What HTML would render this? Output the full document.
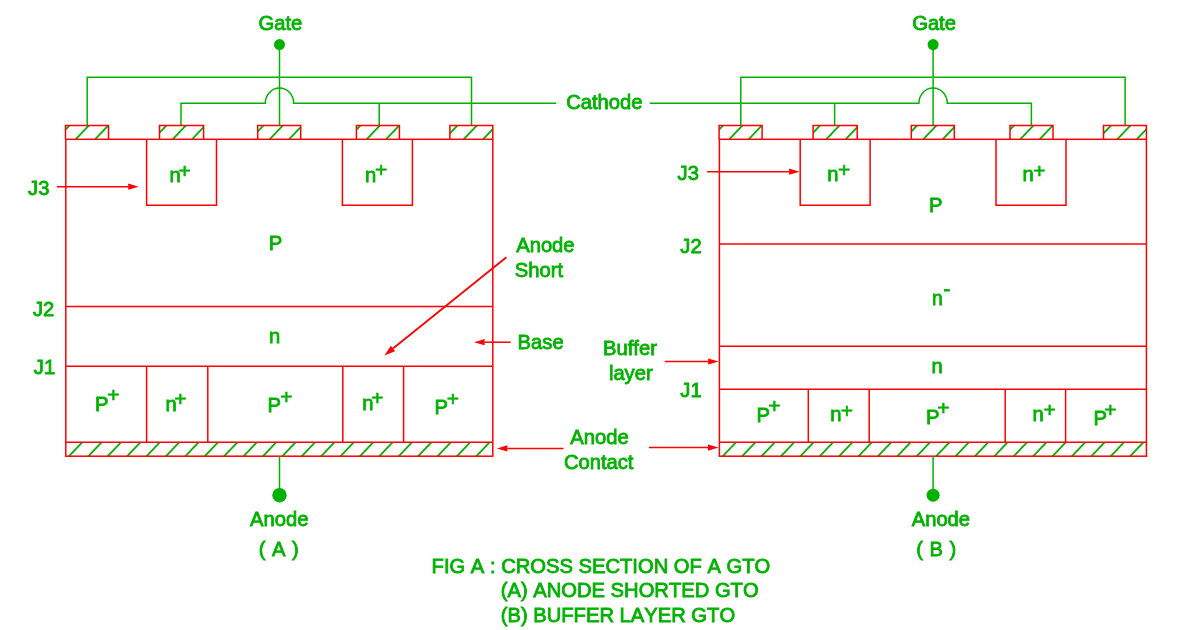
<!DOCTYPE html>
<html lang="en"><head><meta charset="utf-8"><title>Cross section of a GTO</title>
<style>
html,body{margin:0;padding:0;background:#fff;}
svg{display:block;will-change:transform;}
.t{font-kerning:none;font-family:"Liberation Sans",sans-serif;fill:#00b200;stroke:#00b200;stroke-width:0.8px;}
.p{font-family:"Liberation Sans",sans-serif;fill:#00b200;stroke:#00b200;stroke-width:0.6px;}
</style></head><body>
<svg width="1200" height="630" viewBox="0 0 1200 630">
<rect x="0" y="0" width="1200" height="630" fill="#ffffff"/>
<path d="M87.20,125.4 V77.2 H471.50 V125.4" stroke="#00b200" stroke-width="1.5" fill="none" />
<line x1="279.50" y1="44.50" x2="279.50" y2="125.40" stroke="#00b200" stroke-width="1.5" />
<circle cx="279.50" cy="44.6" r="5.5" fill="#00b200"/>
<path d="M181.00,125.4 V103.2 H265.30 A14.2,15.2 0 0 1 293.70,103.2 H556.2" stroke="#00b200" stroke-width="1.5" fill="none" />
<line x1="379.20" y1="103.20" x2="379.20" y2="125.40" stroke="#00b200" stroke-width="1.5" />
<clipPath id="cA0"><rect x="65.50" y="125.40" width="43.00" height="13.90"/></clipPath>
<g clip-path="url(#cA0)">
<line x1="32.94" y1="143.47" x2="54.06" y2="121.23" stroke="#00b200" stroke-width="1.8" />
<line x1="52.34" y1="143.47" x2="73.46" y2="121.23" stroke="#00b200" stroke-width="1.8" />
<line x1="71.74" y1="143.47" x2="92.86" y2="121.23" stroke="#00b200" stroke-width="1.8" />
<line x1="91.14" y1="143.47" x2="112.26" y2="121.23" stroke="#00b200" stroke-width="1.8" />
<line x1="110.54" y1="143.47" x2="131.66" y2="121.23" stroke="#00b200" stroke-width="1.8" />
<line x1="129.94" y1="143.47" x2="151.06" y2="121.23" stroke="#00b200" stroke-width="1.8" />
</g>
<clipPath id="cA1"><rect x="159.50" y="125.40" width="44.10" height="13.90"/></clipPath>
<g clip-path="url(#cA1)">
<line x1="110.54" y1="143.47" x2="131.66" y2="121.23" stroke="#00b200" stroke-width="1.8" />
<line x1="129.94" y1="143.47" x2="151.06" y2="121.23" stroke="#00b200" stroke-width="1.8" />
<line x1="149.34" y1="143.47" x2="170.46" y2="121.23" stroke="#00b200" stroke-width="1.8" />
<line x1="168.74" y1="143.47" x2="189.86" y2="121.23" stroke="#00b200" stroke-width="1.8" />
<line x1="188.14" y1="143.47" x2="209.26" y2="121.23" stroke="#00b200" stroke-width="1.8" />
<line x1="207.54" y1="143.47" x2="228.66" y2="121.23" stroke="#00b200" stroke-width="1.8" />
<line x1="226.94" y1="143.47" x2="248.06" y2="121.23" stroke="#00b200" stroke-width="1.8" />
</g>
<clipPath id="cA2"><rect x="257.70" y="125.40" width="43.00" height="13.90"/></clipPath>
<g clip-path="url(#cA2)">
<line x1="226.94" y1="143.47" x2="248.06" y2="121.23" stroke="#00b200" stroke-width="1.8" />
<line x1="246.34" y1="143.47" x2="267.46" y2="121.23" stroke="#00b200" stroke-width="1.8" />
<line x1="265.74" y1="143.47" x2="286.86" y2="121.23" stroke="#00b200" stroke-width="1.8" />
<line x1="285.14" y1="143.47" x2="306.26" y2="121.23" stroke="#00b200" stroke-width="1.8" />
<line x1="304.54" y1="143.47" x2="325.66" y2="121.23" stroke="#00b200" stroke-width="1.8" />
<line x1="323.94" y1="143.47" x2="345.06" y2="121.23" stroke="#00b200" stroke-width="1.8" />
</g>
<clipPath id="cA3"><rect x="356.40" y="125.40" width="43.00" height="13.90"/></clipPath>
<g clip-path="url(#cA3)">
<line x1="323.94" y1="143.47" x2="345.06" y2="121.23" stroke="#00b200" stroke-width="1.8" />
<line x1="343.34" y1="143.47" x2="364.46" y2="121.23" stroke="#00b200" stroke-width="1.8" />
<line x1="362.74" y1="143.47" x2="383.86" y2="121.23" stroke="#00b200" stroke-width="1.8" />
<line x1="382.14" y1="143.47" x2="403.26" y2="121.23" stroke="#00b200" stroke-width="1.8" />
<line x1="401.54" y1="143.47" x2="422.66" y2="121.23" stroke="#00b200" stroke-width="1.8" />
<line x1="420.94" y1="143.47" x2="442.06" y2="121.23" stroke="#00b200" stroke-width="1.8" />
</g>
<clipPath id="cA4"><rect x="449.90" y="125.40" width="42.90" height="13.90"/></clipPath>
<g clip-path="url(#cA4)">
<line x1="401.54" y1="143.47" x2="422.66" y2="121.23" stroke="#00b200" stroke-width="1.8" />
<line x1="420.94" y1="143.47" x2="442.06" y2="121.23" stroke="#00b200" stroke-width="1.8" />
<line x1="440.34" y1="143.47" x2="461.46" y2="121.23" stroke="#00b200" stroke-width="1.8" />
<line x1="459.74" y1="143.47" x2="480.86" y2="121.23" stroke="#00b200" stroke-width="1.8" />
<line x1="479.14" y1="143.47" x2="500.26" y2="121.23" stroke="#00b200" stroke-width="1.8" />
<line x1="498.54" y1="143.47" x2="519.66" y2="121.23" stroke="#00b200" stroke-width="1.8" />
<line x1="517.94" y1="143.47" x2="539.06" y2="121.23" stroke="#00b200" stroke-width="1.8" />
</g>
<clipPath id="bA"><rect x="65.80" y="442.30" width="427.00" height="13.90"/></clipPath>
<g clip-path="url(#bA)">
<line x1="26.24" y1="460.37" x2="47.36" y2="438.13" stroke="#00b200" stroke-width="1.8" />
<line x1="45.64" y1="460.37" x2="66.76" y2="438.13" stroke="#00b200" stroke-width="1.8" />
<line x1="65.04" y1="460.37" x2="86.16" y2="438.13" stroke="#00b200" stroke-width="1.8" />
<line x1="84.44" y1="460.37" x2="105.56" y2="438.13" stroke="#00b200" stroke-width="1.8" />
<line x1="103.84" y1="460.37" x2="124.96" y2="438.13" stroke="#00b200" stroke-width="1.8" />
<line x1="123.24" y1="460.37" x2="144.36" y2="438.13" stroke="#00b200" stroke-width="1.8" />
<line x1="142.64" y1="460.37" x2="163.76" y2="438.13" stroke="#00b200" stroke-width="1.8" />
<line x1="162.04" y1="460.37" x2="183.16" y2="438.13" stroke="#00b200" stroke-width="1.8" />
<line x1="181.44" y1="460.37" x2="202.56" y2="438.13" stroke="#00b200" stroke-width="1.8" />
<line x1="200.84" y1="460.37" x2="221.96" y2="438.13" stroke="#00b200" stroke-width="1.8" />
<line x1="220.24" y1="460.37" x2="241.36" y2="438.13" stroke="#00b200" stroke-width="1.8" />
<line x1="239.64" y1="460.37" x2="260.76" y2="438.13" stroke="#00b200" stroke-width="1.8" />
<line x1="259.04" y1="460.37" x2="280.16" y2="438.13" stroke="#00b200" stroke-width="1.8" />
<line x1="278.44" y1="460.37" x2="299.56" y2="438.13" stroke="#00b200" stroke-width="1.8" />
<line x1="297.84" y1="460.37" x2="318.96" y2="438.13" stroke="#00b200" stroke-width="1.8" />
<line x1="317.24" y1="460.37" x2="338.36" y2="438.13" stroke="#00b200" stroke-width="1.8" />
<line x1="336.64" y1="460.37" x2="357.76" y2="438.13" stroke="#00b200" stroke-width="1.8" />
<line x1="356.04" y1="460.37" x2="377.16" y2="438.13" stroke="#00b200" stroke-width="1.8" />
<line x1="375.44" y1="460.37" x2="396.56" y2="438.13" stroke="#00b200" stroke-width="1.8" />
<line x1="394.84" y1="460.37" x2="415.96" y2="438.13" stroke="#00b200" stroke-width="1.8" />
<line x1="414.24" y1="460.37" x2="435.36" y2="438.13" stroke="#00b200" stroke-width="1.8" />
<line x1="433.64" y1="460.37" x2="454.76" y2="438.13" stroke="#00b200" stroke-width="1.8" />
<line x1="453.04" y1="460.37" x2="474.16" y2="438.13" stroke="#00b200" stroke-width="1.8" />
<line x1="472.44" y1="460.37" x2="493.56" y2="438.13" stroke="#00b200" stroke-width="1.8" />
<line x1="491.84" y1="460.37" x2="512.96" y2="438.13" stroke="#00b200" stroke-width="1.8" />
<line x1="511.24" y1="460.37" x2="532.36" y2="438.13" stroke="#00b200" stroke-width="1.8" />
</g>
<path d="M65.50,139.3 V125.4 H108.50 V139.3" stroke="#ff0000" stroke-width="1.5" fill="none" />
<path d="M159.50,139.3 V125.4 H203.60 V139.3" stroke="#ff0000" stroke-width="1.5" fill="none" />
<path d="M257.70,139.3 V125.4 H300.70 V139.3" stroke="#ff0000" stroke-width="1.5" fill="none" />
<path d="M356.40,139.3 V125.4 H399.40 V139.3" stroke="#ff0000" stroke-width="1.5" fill="none" />
<path d="M449.90,139.3 V125.4 H492.80 V139.3" stroke="#ff0000" stroke-width="1.5" fill="none" />
<rect x="65.80" y="139.30" width="427.00" height="316.90" stroke="#ff0000" stroke-width="1.5" fill="none"/>
<line x1="65.80" y1="442.30" x2="492.80" y2="442.30" stroke="#ff0000" stroke-width="1.5" />
<path d="M146.60,139.3 V205.2 H216.50 V139.3" stroke="#ff0000" stroke-width="1.5" fill="none" />
<path d="M342.40,139.3 V205.2 H412.40 V139.3" stroke="#ff0000" stroke-width="1.5" fill="none" />
<line x1="65.80" y1="306.50" x2="492.80" y2="306.50" stroke="#ff0000" stroke-width="1.5" />
<line x1="65.80" y1="366.20" x2="492.80" y2="366.20" stroke="#ff0000" stroke-width="1.5" />
<line x1="146.60" y1="366.20" x2="146.60" y2="442.30" stroke="#ff0000" stroke-width="1.5" />
<line x1="207.80" y1="366.20" x2="207.80" y2="442.30" stroke="#ff0000" stroke-width="1.5" />
<line x1="342.80" y1="366.20" x2="342.80" y2="442.30" stroke="#ff0000" stroke-width="1.5" />
<line x1="403.60" y1="366.20" x2="403.60" y2="442.30" stroke="#ff0000" stroke-width="1.5" />
<line x1="279.50" y1="456.20" x2="279.50" y2="495.00" stroke="#00b200" stroke-width="1.5" />
<circle cx="279.50" cy="495.2" r="7.2" fill="#00b200"/>
<path d="M740.80,125.4 V77.2 H1125.10 V125.4" stroke="#00b200" stroke-width="1.5" fill="none" />
<line x1="933.10" y1="44.50" x2="933.10" y2="125.40" stroke="#00b200" stroke-width="1.5" />
<circle cx="933.10" cy="44.6" r="5.5" fill="#00b200"/>
<path d="M649.7,103.2 H918.90 A14.2,15.2 0 0 1 947.30,103.2 H1031.40 V125.4" stroke="#00b200" stroke-width="1.5" fill="none" />
<line x1="834.60" y1="103.20" x2="834.60" y2="125.40" stroke="#00b200" stroke-width="1.5" />
<clipPath id="cB0"><rect x="719.10" y="125.40" width="43.00" height="13.90"/></clipPath>
<g clip-path="url(#cB0)">
<line x1="686.54" y1="143.47" x2="707.66" y2="121.23" stroke="#00b200" stroke-width="1.8" />
<line x1="705.94" y1="143.47" x2="727.06" y2="121.23" stroke="#00b200" stroke-width="1.8" />
<line x1="725.34" y1="143.47" x2="746.46" y2="121.23" stroke="#00b200" stroke-width="1.8" />
<line x1="744.74" y1="143.47" x2="765.86" y2="121.23" stroke="#00b200" stroke-width="1.8" />
<line x1="764.14" y1="143.47" x2="785.26" y2="121.23" stroke="#00b200" stroke-width="1.8" />
<line x1="783.54" y1="143.47" x2="804.66" y2="121.23" stroke="#00b200" stroke-width="1.8" />
</g>
<clipPath id="cB1"><rect x="813.10" y="125.40" width="44.10" height="13.90"/></clipPath>
<g clip-path="url(#cB1)">
<line x1="764.14" y1="143.47" x2="785.26" y2="121.23" stroke="#00b200" stroke-width="1.8" />
<line x1="783.54" y1="143.47" x2="804.66" y2="121.23" stroke="#00b200" stroke-width="1.8" />
<line x1="802.94" y1="143.47" x2="824.06" y2="121.23" stroke="#00b200" stroke-width="1.8" />
<line x1="822.34" y1="143.47" x2="843.46" y2="121.23" stroke="#00b200" stroke-width="1.8" />
<line x1="841.74" y1="143.47" x2="862.86" y2="121.23" stroke="#00b200" stroke-width="1.8" />
<line x1="861.14" y1="143.47" x2="882.26" y2="121.23" stroke="#00b200" stroke-width="1.8" />
<line x1="880.54" y1="143.47" x2="901.66" y2="121.23" stroke="#00b200" stroke-width="1.8" />
</g>
<clipPath id="cB2"><rect x="911.30" y="125.40" width="43.00" height="13.90"/></clipPath>
<g clip-path="url(#cB2)">
<line x1="880.54" y1="143.47" x2="901.66" y2="121.23" stroke="#00b200" stroke-width="1.8" />
<line x1="899.94" y1="143.47" x2="921.06" y2="121.23" stroke="#00b200" stroke-width="1.8" />
<line x1="919.34" y1="143.47" x2="940.46" y2="121.23" stroke="#00b200" stroke-width="1.8" />
<line x1="938.74" y1="143.47" x2="959.86" y2="121.23" stroke="#00b200" stroke-width="1.8" />
<line x1="958.14" y1="143.47" x2="979.26" y2="121.23" stroke="#00b200" stroke-width="1.8" />
<line x1="977.54" y1="143.47" x2="998.66" y2="121.23" stroke="#00b200" stroke-width="1.8" />
</g>
<clipPath id="cB3"><rect x="1010.00" y="125.40" width="43.00" height="13.90"/></clipPath>
<g clip-path="url(#cB3)">
<line x1="977.54" y1="143.47" x2="998.66" y2="121.23" stroke="#00b200" stroke-width="1.8" />
<line x1="996.94" y1="143.47" x2="1018.06" y2="121.23" stroke="#00b200" stroke-width="1.8" />
<line x1="1016.34" y1="143.47" x2="1037.46" y2="121.23" stroke="#00b200" stroke-width="1.8" />
<line x1="1035.74" y1="143.47" x2="1056.86" y2="121.23" stroke="#00b200" stroke-width="1.8" />
<line x1="1055.14" y1="143.47" x2="1076.26" y2="121.23" stroke="#00b200" stroke-width="1.8" />
<line x1="1074.54" y1="143.47" x2="1095.66" y2="121.23" stroke="#00b200" stroke-width="1.8" />
</g>
<clipPath id="cB4"><rect x="1103.50" y="125.40" width="42.90" height="13.90"/></clipPath>
<g clip-path="url(#cB4)">
<line x1="1055.14" y1="143.47" x2="1076.26" y2="121.23" stroke="#00b200" stroke-width="1.8" />
<line x1="1074.54" y1="143.47" x2="1095.66" y2="121.23" stroke="#00b200" stroke-width="1.8" />
<line x1="1093.94" y1="143.47" x2="1115.06" y2="121.23" stroke="#00b200" stroke-width="1.8" />
<line x1="1113.34" y1="143.47" x2="1134.46" y2="121.23" stroke="#00b200" stroke-width="1.8" />
<line x1="1132.74" y1="143.47" x2="1153.86" y2="121.23" stroke="#00b200" stroke-width="1.8" />
<line x1="1152.14" y1="143.47" x2="1173.26" y2="121.23" stroke="#00b200" stroke-width="1.8" />
<line x1="1171.54" y1="143.47" x2="1192.66" y2="121.23" stroke="#00b200" stroke-width="1.8" />
</g>
<clipPath id="bB"><rect x="719.40" y="442.30" width="427.00" height="13.90"/></clipPath>
<g clip-path="url(#bB)">
<line x1="680.04" y1="460.37" x2="701.16" y2="438.13" stroke="#00b200" stroke-width="1.8" />
<line x1="699.44" y1="460.37" x2="720.56" y2="438.13" stroke="#00b200" stroke-width="1.8" />
<line x1="718.84" y1="460.37" x2="739.96" y2="438.13" stroke="#00b200" stroke-width="1.8" />
<line x1="738.24" y1="460.37" x2="759.36" y2="438.13" stroke="#00b200" stroke-width="1.8" />
<line x1="757.64" y1="460.37" x2="778.76" y2="438.13" stroke="#00b200" stroke-width="1.8" />
<line x1="777.04" y1="460.37" x2="798.16" y2="438.13" stroke="#00b200" stroke-width="1.8" />
<line x1="796.44" y1="460.37" x2="817.56" y2="438.13" stroke="#00b200" stroke-width="1.8" />
<line x1="815.84" y1="460.37" x2="836.96" y2="438.13" stroke="#00b200" stroke-width="1.8" />
<line x1="835.24" y1="460.37" x2="856.36" y2="438.13" stroke="#00b200" stroke-width="1.8" />
<line x1="854.64" y1="460.37" x2="875.76" y2="438.13" stroke="#00b200" stroke-width="1.8" />
<line x1="874.04" y1="460.37" x2="895.16" y2="438.13" stroke="#00b200" stroke-width="1.8" />
<line x1="893.44" y1="460.37" x2="914.56" y2="438.13" stroke="#00b200" stroke-width="1.8" />
<line x1="912.84" y1="460.37" x2="933.96" y2="438.13" stroke="#00b200" stroke-width="1.8" />
<line x1="932.24" y1="460.37" x2="953.36" y2="438.13" stroke="#00b200" stroke-width="1.8" />
<line x1="951.64" y1="460.37" x2="972.76" y2="438.13" stroke="#00b200" stroke-width="1.8" />
<line x1="971.04" y1="460.37" x2="992.16" y2="438.13" stroke="#00b200" stroke-width="1.8" />
<line x1="990.44" y1="460.37" x2="1011.56" y2="438.13" stroke="#00b200" stroke-width="1.8" />
<line x1="1009.84" y1="460.37" x2="1030.96" y2="438.13" stroke="#00b200" stroke-width="1.8" />
<line x1="1029.24" y1="460.37" x2="1050.36" y2="438.13" stroke="#00b200" stroke-width="1.8" />
<line x1="1048.64" y1="460.37" x2="1069.76" y2="438.13" stroke="#00b200" stroke-width="1.8" />
<line x1="1068.04" y1="460.37" x2="1089.16" y2="438.13" stroke="#00b200" stroke-width="1.8" />
<line x1="1087.44" y1="460.37" x2="1108.56" y2="438.13" stroke="#00b200" stroke-width="1.8" />
<line x1="1106.84" y1="460.37" x2="1127.96" y2="438.13" stroke="#00b200" stroke-width="1.8" />
<line x1="1126.24" y1="460.37" x2="1147.36" y2="438.13" stroke="#00b200" stroke-width="1.8" />
<line x1="1145.64" y1="460.37" x2="1166.76" y2="438.13" stroke="#00b200" stroke-width="1.8" />
<line x1="1165.04" y1="460.37" x2="1186.16" y2="438.13" stroke="#00b200" stroke-width="1.8" />
</g>
<path d="M719.10,139.3 V125.4 H762.10 V139.3" stroke="#ff0000" stroke-width="1.5" fill="none" />
<path d="M813.10,139.3 V125.4 H857.20 V139.3" stroke="#ff0000" stroke-width="1.5" fill="none" />
<path d="M911.30,139.3 V125.4 H954.30 V139.3" stroke="#ff0000" stroke-width="1.5" fill="none" />
<path d="M1010.00,139.3 V125.4 H1053.00 V139.3" stroke="#ff0000" stroke-width="1.5" fill="none" />
<path d="M1103.50,139.3 V125.4 H1146.40 V139.3" stroke="#ff0000" stroke-width="1.5" fill="none" />
<rect x="719.40" y="139.30" width="427.00" height="316.90" stroke="#ff0000" stroke-width="1.5" fill="none"/>
<line x1="719.40" y1="442.30" x2="1146.40" y2="442.30" stroke="#ff0000" stroke-width="1.5" />
<path d="M800.20,139.3 V205.2 H870.10 V139.3" stroke="#ff0000" stroke-width="1.5" fill="none" />
<path d="M996.00,139.3 V205.2 H1066.00 V139.3" stroke="#ff0000" stroke-width="1.5" fill="none" />
<line x1="719.40" y1="244.10" x2="1146.40" y2="244.10" stroke="#ff0000" stroke-width="1.5" />
<line x1="719.40" y1="346.30" x2="1146.40" y2="346.30" stroke="#ff0000" stroke-width="1.5" />
<line x1="719.40" y1="389.30" x2="1146.40" y2="389.30" stroke="#ff0000" stroke-width="1.5" />
<line x1="808.30" y1="389.30" x2="808.30" y2="442.30" stroke="#ff0000" stroke-width="1.5" />
<line x1="869.20" y1="389.30" x2="869.20" y2="442.30" stroke="#ff0000" stroke-width="1.5" />
<line x1="1005.20" y1="389.30" x2="1005.20" y2="442.30" stroke="#ff0000" stroke-width="1.5" />
<line x1="1065.60" y1="389.30" x2="1065.60" y2="442.30" stroke="#ff0000" stroke-width="1.5" />
<line x1="933.10" y1="456.20" x2="933.10" y2="495.00" stroke="#00b200" stroke-width="1.5" />
<circle cx="933.10" cy="495.2" r="6.5" fill="#00b200"/>
<line x1="57.00" y1="186.70" x2="128.20" y2="186.70" stroke="#ff0000" stroke-width="1.5" />
<polygon points="138.70,186.70 128.20,189.80 128.20,183.60" fill="#ff0000"/>
<line x1="506.40" y1="257.30" x2="392.97" y2="348.51" stroke="#ff0000" stroke-width="1.8" />
<polygon points="384.40,355.40 390.84,345.86 395.10,351.16" fill="#ff0000"/>
<line x1="510.70" y1="342.20" x2="484.60" y2="342.20" stroke="#ff0000" stroke-width="1.5" />
<polygon points="474.10,342.20 484.60,339.10 484.60,345.30" fill="#ff0000"/>
<line x1="707.20" y1="171.70" x2="789.10" y2="171.70" stroke="#ff0000" stroke-width="1.5" />
<polygon points="799.60,171.70 789.10,174.80 789.10,168.60" fill="#ff0000"/>
<line x1="664.80" y1="361.50" x2="708.10" y2="361.50" stroke="#ff0000" stroke-width="1.5" />
<polygon points="718.60,361.50 708.10,364.60 708.10,358.40" fill="#ff0000"/>
<line x1="649.00" y1="447.60" x2="708.00" y2="447.60" stroke="#ff0000" stroke-width="1.5" />
<polygon points="718.50,447.60 708.00,450.70 708.00,444.50" fill="#ff0000"/>
<line x1="563.40" y1="448.40" x2="507.40" y2="448.40" stroke="#ff0000" stroke-width="1.5" />
<polygon points="496.90,448.40 507.40,445.30 507.40,451.50" fill="#ff0000"/>
<text class="t" x="258.50" y="30.00" font-size="20.2" text-anchor="start">Gate</text>
<text class="t" x="912.20" y="30.00" font-size="20.2" text-anchor="start">Gate</text>
<text class="t" x="566.20" y="109.00" font-size="20.2" text-anchor="start">Cathode</text>
<text class="t" x="28.10" y="195.00" font-size="20.2" text-anchor="start">J3</text>
<text class="t" x="33.00" y="316.00" font-size="20.2" text-anchor="start">J2</text>
<text class="t" x="33.80" y="374.00" font-size="20.2" text-anchor="start">J1</text>
<text class="t" x="677.60" y="180.00" font-size="20.2" text-anchor="start">J3</text>
<text class="t" x="680.30" y="253.00" font-size="20.2" text-anchor="start">J2</text>
<text class="t" x="680.30" y="397.00" font-size="20.2" text-anchor="start">J1</text>
<text class="t" x="268.80" y="250.00" font-size="20.2" text-anchor="start">P</text>
<text class="t" x="269.00" y="343.00" font-size="20.2" text-anchor="start">n</text>
<text class="t" x="928.90" y="212.00" font-size="20.2" text-anchor="start">P</text>
<text class="t" x="931.90" y="305.00" font-size="19.4" text-anchor="start">n</text>
<text class="t" x="931.60" y="373.00" font-size="20.2" text-anchor="start">n</text>
<text class="t" x="943.50" y="296.00" font-size="20.2" text-anchor="start">-</text>
<text class="t" x="516.20" y="252.00" font-size="20.2" text-anchor="start">Anode</text>
<text class="t" x="514.80" y="277.00" font-size="20.2" text-anchor="start">Short</text>
<text class="t" x="517.60" y="349.00" font-size="20.2" text-anchor="start">Base</text>
<text class="t" x="603.00" y="355.00" font-size="20.2" text-anchor="start">Buffer</text>
<text class="t" x="608.90" y="380.00" font-size="20.2" text-anchor="start">layer</text>
<text class="t" x="250.00" y="526.00" font-size="20.2" text-anchor="start">Anode</text>
<text class="t" x="258.8" y="556" font-size="20.2" word-spacing="0.9">( A )</text>
<text class="t" x="911.70" y="526.00" font-size="20.2" text-anchor="start">Anode</text>
<text class="t" x="916.20" y="556" font-size="20.2" word-spacing="0.9">( B )</text>
<text class="t" x="431.60" y="573.00" font-size="20.2" text-anchor="start">FIG A : CROSS SECTION OF A GTO</text>
<text class="t" x="500.70" y="597.00" font-size="20.2" text-anchor="start">(A) ANODE SHORTED GTO</text>
<text class="t" x="500.70" y="622.00" font-size="20.2" text-anchor="start">(B) BUFFER LAYER GTO</text>
<text class="t" x="570.30" y="444.00" font-size="20.2" text-anchor="start">Anode</text>
<text class="t" x="563.90" y="469.00" font-size="20.2" text-anchor="start">Contact</text>
<text class="t" x="169.50" y="181.60" font-size="20.2" text-anchor="start">n</text>
<text class="p" x="184.60" y="177.50" font-size="21" text-anchor="middle">+</text>
<text class="t" x="365.10" y="181.80" font-size="20.2" text-anchor="start">n</text>
<text class="p" x="381.20" y="177.20" font-size="21" text-anchor="middle">+</text>
<text class="t" x="827.30" y="180.80" font-size="20.2" text-anchor="start">n</text>
<text class="p" x="844.10" y="177.30" font-size="21" text-anchor="middle">+</text>
<text class="t" x="1022.40" y="181.00" font-size="20.2" text-anchor="start">n</text>
<text class="p" x="1039.40" y="177.60" font-size="21" text-anchor="middle">+</text>
<text class="t" x="95.00" y="411.00" font-size="20.2" text-anchor="start">P</text>
<text class="p" x="113.40" y="402.00" font-size="21" text-anchor="middle">+</text>
<text class="t" x="165.50" y="410.50" font-size="20.2" text-anchor="start">n</text>
<text class="p" x="180.50" y="405.60" font-size="21" text-anchor="middle">+</text>
<text class="t" x="267.50" y="412.40" font-size="20.2" text-anchor="start">P</text>
<text class="p" x="286.30" y="403.80" font-size="21" text-anchor="middle">+</text>
<text class="t" x="362.30" y="409.60" font-size="20.2" text-anchor="start">n</text>
<text class="p" x="377.50" y="405.30" font-size="21" text-anchor="middle">+</text>
<text class="t" x="434.50" y="414.40" font-size="20.2" text-anchor="start">P</text>
<text class="p" x="453.00" y="405.60" font-size="21" text-anchor="middle">+</text>
<text class="t" x="756.50" y="422.40" font-size="20.2" text-anchor="start">P</text>
<text class="p" x="774.40" y="412.90" font-size="21" text-anchor="middle">+</text>
<text class="t" x="830.30" y="421.40" font-size="20.2" text-anchor="start">n</text>
<text class="p" x="847.00" y="418.30" font-size="21" text-anchor="middle">+</text>
<text class="t" x="925.90" y="424.00" font-size="20.2" text-anchor="start">P</text>
<text class="p" x="943.40" y="415.10" font-size="21" text-anchor="middle">+</text>
<text class="t" x="1032.60" y="421.00" font-size="20.2" text-anchor="start">n</text>
<text class="p" x="1049.60" y="416.60" font-size="21" text-anchor="middle">+</text>
<text class="t" x="1093.50" y="425.40" font-size="20.2" text-anchor="start">P</text>
<text class="p" x="1110.50" y="417.10" font-size="21" text-anchor="middle">+</text>
</svg>
</body></html>
